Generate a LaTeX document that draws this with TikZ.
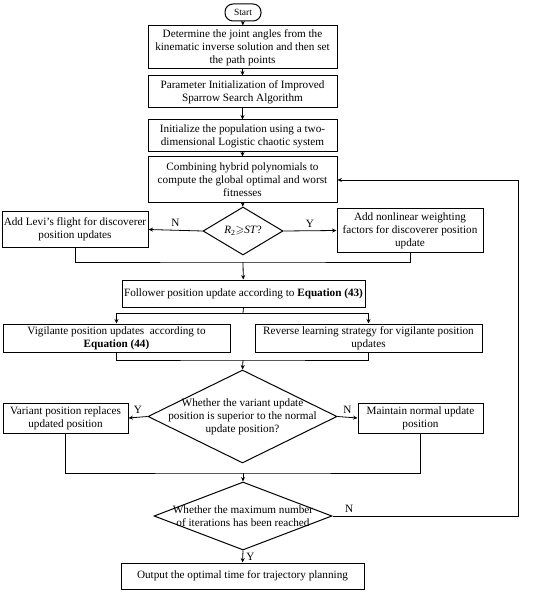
\documentclass[tikz,border=0pt]{standalone}
\usepackage{amssymb}
\usepackage{fontspec}
\setmainfont{Liberation Serif}
\usetikzlibrary{shapes.geometric, arrows.meta}

\begin{document}
\begin{tikzpicture}[x=1pt, y=-1pt,
  every node/.style={font=\fontsize{11.2}{13}\selectfont},
  box node/.style={rectangle, draw, line width=1pt, align=center, inner sep=1pt},
  test node/.style={diamond, draw, line width=1pt, inner sep=0pt},
  start node/.style={rectangle, rounded corners=8pt, draw, line width=1pt, font=\fontsize{9.5}{11}\selectfont},
  flow/.style={line width=0.8pt, -{Stealth[length=4.5pt, width=4pt]}},
  link/.style={line width=0.8pt}]

\useasboundingbox (0,0) rectangle (550,593);

\node[start node, minimum width=36, minimum height=17] (start) at (243,12.5) {Start};
\node[box node, minimum width=189, minimum height=43] (joint) at (242.5,47.5)
  {Determine the joint angles from the\\kinematic inverse solution and then set\\the path points};
\node[box node, minimum width=189, minimum height=32] (init) at (242.5,92)
  {Parameter Initialization of Improved\\Sparrow Search Algorithm};
\node[box node, minimum width=189, minimum height=32] (popul) at (242.5,136)
  {Initialize the population using a two-\\dimensional Logistic chaotic system};
\node[box node, minimum width=189, minimum height=46] (fitness) at (242.5,180)
  {Combining hybrid polynomials to\\compute the global optimal and worst\\fitnesses};

\node[test node, minimum width=80, minimum height=48,
  label={center:\textit{R}\textsubscript{2}$\geqslant$\textit{ST}?}] (warn) at (243,231) {};
\node[box node, minimum width=146, minimum height=35] (levi) at (75,229.5)
  {Add Levi's flight for discoverer\\position updates};
\node[box node, minimum width=146, minimum height=43] (weight) at (410,230.5)
  {Add nonlinear weighting\\factors for discoverer position\\update};

\node[box node, minimum width=243, minimum height=27] (follow) at (243.5,293.5)
  {Follower position update according to \textbf{Equation (43)}};
\node[box node, minimum width=227, minimum height=28] (vigil) at (116.5,338)
  {Vigilante position updates\ \ according to\\\textbf{Equation (44)}};
\node[box node, minimum width=227, minimum height=28] (reverse) at (368.5,338)
  {Reverse learning strategy for vigilante position\\updates};

\node[test node, minimum width=189, minimum height=93,
  label={[align=center]center:{Whether the variant update\\position is superior to the normal\\update position?}}] (better) at (242.5,416.5) {};
\node[box node, minimum width=125, minimum height=30] (variant) at (65.5,418)
  {Variant position replaces\\updated position};
\node[box node, minimum width=125, minimum height=30] (normal) at (420.5,418)
  {Maintain normal update\\position};

\node[test node, minimum width=178, minimum height=68,
  label={[align=center]center:{Whether the maximum number\\of iterations has been reached}}] (maxiter) at (243,516) {};
\node[box node, minimum width=243, minimum height=26] (output) at (242.5,576)
  {Output the optimal time for trajectory planning};

\coordinate (m1) at (243,262);
\coordinate (s1) at (243,313);
\coordinate (m2) at (243,360);
\coordinate (m3) at (243,473);
\coordinate (back) at (518,516);

\draw[flow] (start) -- (joint);
\draw[flow] (joint) -- (init);
\draw[flow] (init) -- (popul);
\draw[flow] (popul) -- (fitness);
\draw[flow] (fitness) -- (warn);
\draw[flow] (warn.west) -- node[above] {N} (levi.east);
\draw[flow] (warn.east) -- node[above] {Y} (weight.west);
\draw[link] (levi.south) |- (m1) -| (weight.south);
\draw[flow] (m1) -- (follow);
\draw[link] (follow.south) -- (s1);
\draw[flow] (s1) -| (vigil.north);
\draw[flow] (s1) -| (reverse.north);
\draw[link] (vigil.south) |- (m2) -| (reverse.south);
\draw[flow] (m2) -- (better.north);
\draw[flow] (better.west) -- node[above] {Y} (variant.east);
\draw[flow] (better.east) -- node[above] {N} (normal.west);
\draw[link] (variant.south) |- (m3) -| (normal.south);
\draw[flow] (m3) -- (maxiter.north);
\draw[flow] (maxiter.south) -- node[right] {Y} (output.north);
\draw[flow] (maxiter.east) -- node[pos=0.09, above] {N} (back) |- (fitness.east);

\end{tikzpicture}
\end{document}
